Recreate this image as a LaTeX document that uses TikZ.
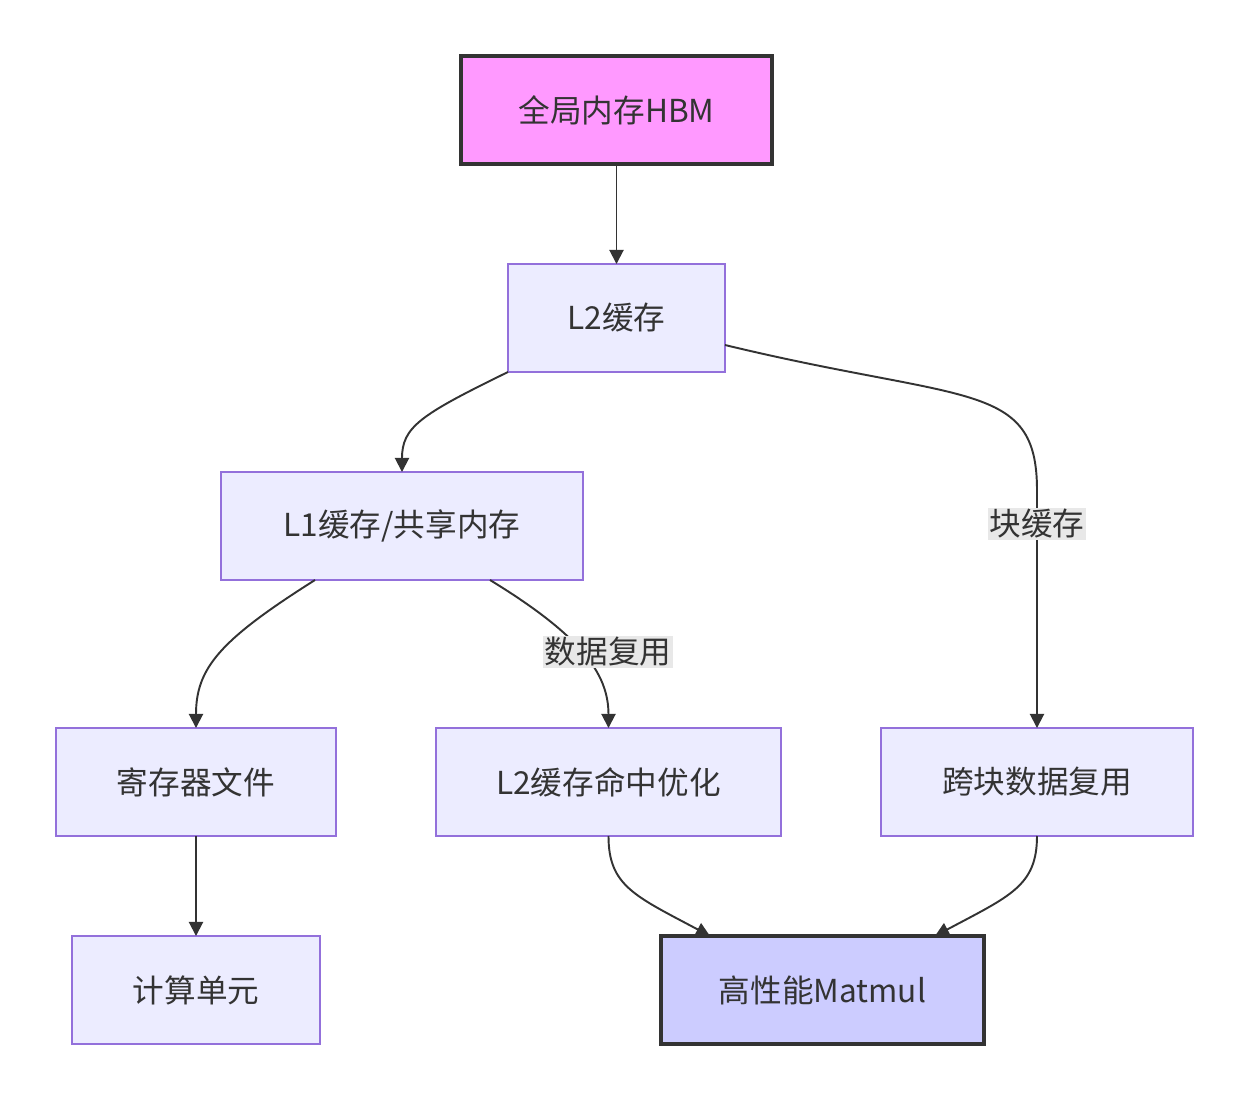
\documentclass[tikz,border=0pt]{standalone}
\usepackage{fontspec}
\setmainfont{Noto Sans CJK SC}
\usepackage{xcolor}
\usetikzlibrary{arrows.meta}

\definecolor{boxfill}{HTML}{ECECFF}
\definecolor{boxline}{HTML}{9370DB}
\definecolor{hbmfill}{HTML}{FF99FF}
\definecolor{mmfill}{HTML}{CCCCFF}
\definecolor{ink}{HTML}{333333}
\definecolor{lblfill}{HTML}{E8E8E8}

\begin{document}
\begin{tikzpicture}[x=0.02cm, y=-0.02cm,
    font=\fontsize{18}{22}\selectfont, text=ink,
    box/.style={draw=boxline, fill=boxfill, line width=1pt, minimum height=2.16cm, inner sep=0pt, outer sep=0pt},
    bold box/.style={box, draw=ink, line width=2.2pt},
    link/.style={draw=ink, line width=1.1pt, -{Triangle[length=8pt, width=8pt]}},
    lbl/.style={fill=lblfill, inner sep=1pt}]
  \useasboundingbox (0,0) rectangle (1249,1100);

  % memory levels
  \node[bold box, fill=hbmfill, minimum width=6.22cm] (hbm) at (616.5,110) {全局内存HBM};
  \node[box, minimum width=4.34cm] (l2) at (616.5,318) {L2缓存};
  \node[box, minimum width=7.24cm] (l1) at (402,526) {L1缓存/共享内存};
  \node[box, minimum width=5.6cm] (reg) at (196,782) {寄存器文件};
  \node[box, minimum width=6.9cm] (hit) at (608.5,782) {L2缓存命中优化};
  \node[box, minimum width=6.24cm] (reuse) at (1037,782) {跨块数据复用};
  \node[box, minimum width=4.96cm] (alu) at (196,990) {计算单元};
  \node[bold box, fill=mmfill, minimum width=6.46cm] (mm) at (822.5,990) {高性能Matmul};

  % connectors
  \draw[link] (hbm) -- (l2);
  \draw[link] (l2.south west) .. controls +(-88,43) and +(0,-45) .. (l1.north);
  \draw[link] ([yshift=-0.54cm]l2.east) .. controls +(240,58) and +(0,-110) .. ([yshift=4.76cm]reuse.north) -- (reuse.north);
  \node[lbl] (lblblock) at (1037,524) {块缓存};
  \draw[link] ([xshift=-1.74cm]l1.south) .. controls +(-95,60) and +(0,-60) .. (reg.north);
  \draw[link] ([xshift=1.76cm]l1.south) .. controls +(90,55) and +(0,-55) .. (hit.north);
  \node[lbl] (lbldata) at (608,652) {数据复用};
  \draw[link] (reg) -- (alu);
  \draw[link] (hit.south) .. controls +(0,50) and +(-75,-40) .. ([xshift=-2.25cm]mm.north);
  \draw[link] (reuse.south) .. controls +(0,50) and +(75,-40) .. ([xshift=2.25cm]mm.north);
\end{tikzpicture}
\end{document}
